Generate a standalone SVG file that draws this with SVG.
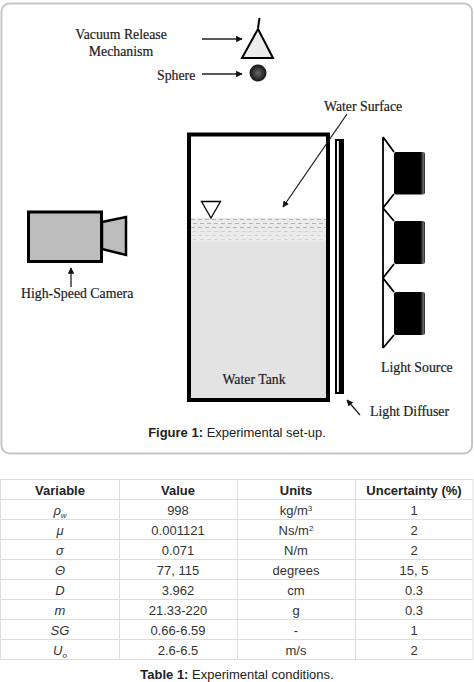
<svg xmlns="http://www.w3.org/2000/svg" width="474" height="682" viewBox="0 0 474 682">
<style>
.lab{font-family:"Liberation Serif",serif;font-size:13.8px;fill:#1c1c1c;stroke:#1c1c1c;stroke-width:.2}
.cap{font-family:"Liberation Sans",Arial,sans-serif;font-size:13px;fill:#222;text-anchor:middle}
.t{font-family:"Liberation Sans",Arial,sans-serif;font-size:13px;fill:#333;text-anchor:middle}
.h{font-weight:700;fill:#222}
.i{font-style:italic}
.sub{font-size:8px}
.a{stroke:#222;stroke-width:1.300;fill:none;marker-end:url(#ah)}
.k{stroke:#000;fill:none}
.g{stroke:#ddd;stroke-width:1;fill:none}
.d{stroke:#b4b4b6;stroke-width:1;stroke-dasharray:4 3;fill:none}
.d2{stroke:#d4d4d6;stroke-width:1;stroke-dasharray:4 3;fill:none}
</style>
<defs>
<marker id="ah" viewBox="0 0 10 10" refX="9" refY="5" markerWidth="6.500" markerHeight="6.500" orient="auto" markerUnits="userSpaceOnUse"><path d="M0 0L10 5L0 10Z" fill="#111"/></marker>
<radialGradient id="sph" cx=".5" cy=".5" r=".55"><stop offset="0" stop-color="#666"/><stop offset="1" stop-color="#0c0c0c"/></radialGradient>
<linearGradient id="lamp" x1="0" x2="1" y1="0" y2="0"><stop offset="0" stop-color="#000"/><stop offset=".85" stop-color="#000"/><stop offset=".95" stop-color="#666"/><stop offset="1" stop-color="#222"/></linearGradient>
</defs>
<rect id="panel" x="1.500" y="3.500" width="470.500" height="450" rx="8" fill="#fff" stroke="#c6c6c6" stroke-width="2"/>
<g id="release"><path d="M258 28L259.500 18" class="k" stroke-width="2"/><path d="M258 29L273 58H242Z" fill="#ececec" stroke="#000" stroke-width="2"/></g>
<g id="sphere"><circle cx="258" cy="73" r="8.500" fill="url(#sph)"/></g>
<g id="tank"><rect x="189" y="134.500" width="139" height="265.500" fill="#fff" stroke="none"/><rect x="191" y="218" width="135" height="180" fill="#e3e3e4"/>
<rect x="191" y="218" width="135" height="24" fill="#ebebec"/>
<path class="d" d="M191 219.500H326M193 223.500H326M191 227.500H326"/>
<path class="d2" d="M193 231.500H326M191 235.500H326M193 239.500H326"/>
<rect x="189" y="134.500" width="139" height="265.500" fill="none" stroke="#000" stroke-width="4"/>
<path d="M201.500 201.500H220.500L211 218Z" fill="#fff" stroke="#000" stroke-width="1.300"/>
<text class="lab" x="254" y="384" text-anchor="middle">Water Tank</text></g>
<g id="diffuser"><rect x="335" y="139" width="9" height="255" fill="#000"/><rect x="337" y="141" width="1.800" height="251" fill="#fff"/></g>
<g id="camera"><path d="M102 222L126 217V255L102 249Z" fill="#bdbdbd" stroke="#000" stroke-width="2.500"/><rect x="28.500" y="212" width="73" height="49.500" fill="#bdbdbd" stroke="#000" stroke-width="3"/></g>
<g id="light"><path class="k" stroke-width="1.800" d="M383 137V348M383 137L394 152M394 194L383 208L394 221M394 264L383 278L394 292M394 335L383 348"/>
<rect x="394" y="152" width="31" height="42.500" rx="2" fill="url(#lamp)"/><rect x="394" y="221" width="31" height="43" rx="2" fill="url(#lamp)"/><rect x="394" y="292" width="31" height="43" rx="2" fill="url(#lamp)"/></g>
<g id="connectors">
<path class="a" d="M202 39H242"/><path class="a" d="M202 74H242"/><path class="a" d="M347 114L283 207"/><path class="a" d="M71 287V268"/><path class="a" d="M360 415L347 400"/>
</g>
<g id="labels">
<text class="lab" x="121" y="39" text-anchor="middle">Vacuum Release</text>
<text class="lab" x="121" y="55.500" text-anchor="middle">Mechanism</text>
<text class="lab" x="157" y="80">Sphere</text>
<text class="lab" x="324" y="111">Water Surface</text>
<text class="lab" x="21" y="298">High-Speed Camera</text>
<text class="lab" x="381" y="372">Light Source</text>
<text class="lab" x="370" y="416">Light Diffuser</text>
</g>
<text class="cap" x="237" y="437"><tspan font-weight="700">Figure 1:</tspan> Experimental set-up.</text>
<g id="table">
<path class="g" d="M0 479.500H473M0 499.500H473M0 519.500H473M0 539.500H473M0 559.500H473M0 579.500H473M0 599.500H473M0 619.500H473M0 639.500H473M0 659.500H473M.5 479V660M119.500 479V660M237.500 479V660M355.500 479V660M473 479V660"/>
<g class="t h"><text x="60" y="495">Variable</text><text x="178" y="495">Value</text><text x="296" y="495">Units</text><text x="414" y="495">Uncertainty (%)</text></g>
<g class="t">
<text class="i" x="60" y="515">ρ<tspan class="sub" dy="3">w</tspan></text><text x="178" y="514.500">998</text><text x="296" y="514.500">kg/m<tspan class="sub" dy="-4">3</tspan></text><text x="414" y="514.500">1</text>
<text class="i" x="60" y="534.500">μ</text><text x="178" y="534.500">0.001121</text><text x="296" y="534.500">Ns/m<tspan class="sub" dy="-4">2</tspan></text><text x="414" y="534.500">2</text>
<text class="i" x="60" y="554.500">σ</text><text x="178" y="554.500">0.071</text><text x="296" y="554.500">N/m</text><text x="414" y="554.500">2</text>
<text class="i" x="60" y="574.500">Θ</text><text x="178" y="574.500">77, 115</text><text x="296" y="574.500">degrees</text><text x="414" y="574.500">15, 5</text>
<text class="i" x="60" y="594.500">D</text><text x="178" y="594.500">3.962</text><text x="296" y="594.500">cm</text><text x="414" y="594.500">0.3</text>
<text class="i" x="60" y="614.500">m</text><text x="178" y="614.500">21.33-220</text><text x="296" y="614.500">g</text><text x="414" y="614.500">0.3</text>
<text class="i" x="60" y="634.500">SG</text><text x="178" y="634.500">0.66-6.59</text><text x="296" y="634.500">-</text><text x="414" y="634.500">1</text>
<text class="i" x="60" y="654.500">U<tspan class="sub" dy="3">o</tspan></text><text x="178" y="654.500">2.6-6.5</text><text x="296" y="654.500">m/s</text><text x="414" y="654.500">2</text>
</g>
</g>
<text class="cap" x="237" y="679"><tspan font-weight="700">Table 1:</tspan> Experimental conditions.</text>
</svg>
